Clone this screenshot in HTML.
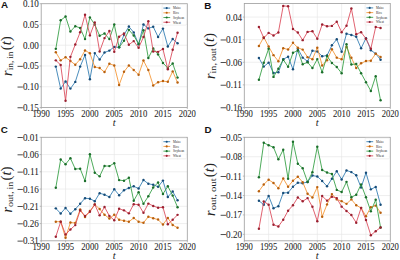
<!DOCTYPE html>
<html><head><meta charset="utf-8"><style>
html,body{margin:0;padding:0;background:#fff;}
svg{display:block;}
text{font-family:"Liberation Serif",serif;fill:#222;}
.grid{stroke:#e6e6e6;stroke-width:0.65;}
.spine{fill:none;stroke:#a2a2a2;stroke-width:0.85;}
.tick{stroke:#a2a2a2;stroke-width:0.7;}
.ln{stroke-width:0.85;}
.yt{font-size:9.9px;text-anchor:end;stroke:#333;stroke-width:0.05px;}
.minus{fill:#222;}
.xt{font-size:9.4px;text-anchor:middle;stroke:#333;stroke-width:0.05px;}
.xl{font-size:10.5px;font-style:italic;}
.ylr{font-size:14px;font-style:italic;}
.ylsub{font-size:9.2px;}
.ylp{font-size:14.5px;}
.ylp .it{font-style:italic;}
.pl{font-family:"Liberation Sans",sans-serif;font-weight:bold;font-size:9.8px;fill:#111;}
.leg{fill:#fff;fill-opacity:0.85;stroke:#e2e2e2;stroke-width:0.5;}
.lt{font-size:3.8px;fill:#2a2a2a;}
</style></head><body>
<svg width="400" height="260" viewBox="0 0 400 260">
<line x1="65.55" y1="3.7" x2="65.55" y2="107.5" class="grid"/>
<line x1="89.90" y1="3.7" x2="89.90" y2="107.5" class="grid"/>
<line x1="114.25" y1="3.7" x2="114.25" y2="107.5" class="grid"/>
<line x1="138.60" y1="3.7" x2="138.60" y2="107.5" class="grid"/>
<line x1="162.95" y1="3.7" x2="162.95" y2="107.5" class="grid"/>
<line x1="41.2" y1="24.46" x2="187.3" y2="24.46" class="grid"/>
<line x1="41.2" y1="45.22" x2="187.3" y2="45.22" class="grid"/>
<line x1="41.2" y1="65.98" x2="187.3" y2="65.98" class="grid"/>
<line x1="41.2" y1="86.74" x2="187.3" y2="86.74" class="grid"/>
<polyline points="55.81,66.60 60.68,88.61 65.55,81.47 70.42,88.61 75.29,81.88 80.16,66.60 85.03,55.02 89.90,79.27 94.77,53.11 99.64,59.59 104.51,52.49 109.38,50.62 114.25,46.88 119.12,47.30 123.99,34.84 128.86,26.58 133.73,32.39 138.60,44.39 143.47,24.46 148.34,28.40 153.21,26.74 158.08,36.92 162.95,28.61 167.82,46.47 172.69,38.99 177.56,43.31" fill="none" stroke="#2a78b0" class="ln"/>
<circle cx="55.81" cy="66.60" r="1.22" fill="#174c78" class="mk"/>
<circle cx="60.68" cy="88.61" r="1.22" fill="#174c78" class="mk"/>
<circle cx="65.55" cy="81.47" r="1.22" fill="#174c78" class="mk"/>
<circle cx="70.42" cy="88.61" r="1.22" fill="#174c78" class="mk"/>
<circle cx="75.29" cy="81.88" r="1.22" fill="#174c78" class="mk"/>
<circle cx="80.16" cy="66.60" r="1.22" fill="#174c78" class="mk"/>
<circle cx="85.03" cy="55.02" r="1.22" fill="#174c78" class="mk"/>
<circle cx="89.90" cy="79.27" r="1.22" fill="#174c78" class="mk"/>
<circle cx="94.77" cy="53.11" r="1.22" fill="#174c78" class="mk"/>
<circle cx="99.64" cy="59.59" r="1.22" fill="#174c78" class="mk"/>
<circle cx="104.51" cy="52.49" r="1.22" fill="#174c78" class="mk"/>
<circle cx="109.38" cy="50.62" r="1.22" fill="#174c78" class="mk"/>
<circle cx="114.25" cy="46.88" r="1.22" fill="#174c78" class="mk"/>
<circle cx="119.12" cy="47.30" r="1.22" fill="#174c78" class="mk"/>
<circle cx="123.99" cy="34.84" r="1.22" fill="#174c78" class="mk"/>
<circle cx="128.86" cy="26.58" r="1.22" fill="#174c78" class="mk"/>
<circle cx="133.73" cy="32.39" r="1.22" fill="#174c78" class="mk"/>
<circle cx="138.60" cy="44.39" r="1.22" fill="#174c78" class="mk"/>
<circle cx="143.47" cy="24.46" r="1.22" fill="#174c78" class="mk"/>
<circle cx="148.34" cy="28.40" r="1.22" fill="#174c78" class="mk"/>
<circle cx="153.21" cy="26.74" r="1.22" fill="#174c78" class="mk"/>
<circle cx="158.08" cy="36.92" r="1.22" fill="#174c78" class="mk"/>
<circle cx="162.95" cy="28.61" r="1.22" fill="#174c78" class="mk"/>
<circle cx="167.82" cy="46.47" r="1.22" fill="#174c78" class="mk"/>
<circle cx="172.69" cy="38.99" r="1.22" fill="#174c78" class="mk"/>
<circle cx="177.56" cy="43.31" r="1.22" fill="#174c78" class="mk"/>
<polyline points="55.81,52.28 60.68,60.37 65.55,57.26 70.42,61.00 75.29,64.73 80.16,59.21 85.03,50.41 89.90,53.23 94.77,67.02 99.64,68.06 104.51,72.08 109.38,63.70 114.25,65.44 119.12,85.00 123.99,71.75 128.86,65.48 133.73,70.01 138.60,74.70 143.47,60.58 148.34,70.05 153.21,85.41 158.08,82.26 162.95,81.09 167.82,81.76 172.69,71.38 177.56,82.59" fill="none" stroke="#f4922e" class="ln"/>
<circle cx="55.81" cy="52.28" r="1.22" fill="#b8600e" class="mk"/>
<circle cx="60.68" cy="60.37" r="1.22" fill="#b8600e" class="mk"/>
<circle cx="65.55" cy="57.26" r="1.22" fill="#b8600e" class="mk"/>
<circle cx="70.42" cy="61.00" r="1.22" fill="#b8600e" class="mk"/>
<circle cx="75.29" cy="64.73" r="1.22" fill="#b8600e" class="mk"/>
<circle cx="80.16" cy="59.21" r="1.22" fill="#b8600e" class="mk"/>
<circle cx="85.03" cy="50.41" r="1.22" fill="#b8600e" class="mk"/>
<circle cx="89.90" cy="53.23" r="1.22" fill="#b8600e" class="mk"/>
<circle cx="94.77" cy="67.02" r="1.22" fill="#b8600e" class="mk"/>
<circle cx="99.64" cy="68.06" r="1.22" fill="#b8600e" class="mk"/>
<circle cx="104.51" cy="72.08" r="1.22" fill="#b8600e" class="mk"/>
<circle cx="109.38" cy="63.70" r="1.22" fill="#b8600e" class="mk"/>
<circle cx="114.25" cy="65.44" r="1.22" fill="#b8600e" class="mk"/>
<circle cx="119.12" cy="85.00" r="1.22" fill="#b8600e" class="mk"/>
<circle cx="123.99" cy="71.75" r="1.22" fill="#b8600e" class="mk"/>
<circle cx="128.86" cy="65.48" r="1.22" fill="#b8600e" class="mk"/>
<circle cx="133.73" cy="70.01" r="1.22" fill="#b8600e" class="mk"/>
<circle cx="138.60" cy="74.70" r="1.22" fill="#b8600e" class="mk"/>
<circle cx="143.47" cy="60.58" r="1.22" fill="#b8600e" class="mk"/>
<circle cx="148.34" cy="70.05" r="1.22" fill="#b8600e" class="mk"/>
<circle cx="153.21" cy="85.41" r="1.22" fill="#b8600e" class="mk"/>
<circle cx="158.08" cy="82.26" r="1.22" fill="#b8600e" class="mk"/>
<circle cx="162.95" cy="81.09" r="1.22" fill="#b8600e" class="mk"/>
<circle cx="167.82" cy="81.76" r="1.22" fill="#b8600e" class="mk"/>
<circle cx="172.69" cy="71.38" r="1.22" fill="#b8600e" class="mk"/>
<circle cx="177.56" cy="82.59" r="1.22" fill="#b8600e" class="mk"/>
<polyline points="55.81,48.87 60.68,20.31 65.55,16.57 70.42,31.44 75.29,26.25 80.16,27.91 85.03,39.12 89.90,17.40 94.77,24.46 99.64,35.75 104.51,33.51 109.38,39.12 114.25,24.42 119.12,47.30 123.99,40.78 128.86,29.86 133.73,35.46 138.60,43.97 143.47,30.27 148.34,58.09 153.21,48.50 158.08,54.40 162.95,62.91 167.82,68.06 172.69,63.49 177.56,77.61" fill="none" stroke="#2e9c3e" class="ln"/>
<circle cx="55.81" cy="48.87" r="1.22" fill="#1b6e2b" class="mk"/>
<circle cx="60.68" cy="20.31" r="1.22" fill="#1b6e2b" class="mk"/>
<circle cx="65.55" cy="16.57" r="1.22" fill="#1b6e2b" class="mk"/>
<circle cx="70.42" cy="31.44" r="1.22" fill="#1b6e2b" class="mk"/>
<circle cx="75.29" cy="26.25" r="1.22" fill="#1b6e2b" class="mk"/>
<circle cx="80.16" cy="27.91" r="1.22" fill="#1b6e2b" class="mk"/>
<circle cx="85.03" cy="39.12" r="1.22" fill="#1b6e2b" class="mk"/>
<circle cx="89.90" cy="17.40" r="1.22" fill="#1b6e2b" class="mk"/>
<circle cx="94.77" cy="24.46" r="1.22" fill="#1b6e2b" class="mk"/>
<circle cx="99.64" cy="35.75" r="1.22" fill="#1b6e2b" class="mk"/>
<circle cx="104.51" cy="33.51" r="1.22" fill="#1b6e2b" class="mk"/>
<circle cx="109.38" cy="39.12" r="1.22" fill="#1b6e2b" class="mk"/>
<circle cx="114.25" cy="24.42" r="1.22" fill="#1b6e2b" class="mk"/>
<circle cx="119.12" cy="47.30" r="1.22" fill="#1b6e2b" class="mk"/>
<circle cx="123.99" cy="40.78" r="1.22" fill="#1b6e2b" class="mk"/>
<circle cx="128.86" cy="29.86" r="1.22" fill="#1b6e2b" class="mk"/>
<circle cx="133.73" cy="35.46" r="1.22" fill="#1b6e2b" class="mk"/>
<circle cx="138.60" cy="43.97" r="1.22" fill="#1b6e2b" class="mk"/>
<circle cx="143.47" cy="30.27" r="1.22" fill="#1b6e2b" class="mk"/>
<circle cx="148.34" cy="58.09" r="1.22" fill="#1b6e2b" class="mk"/>
<circle cx="153.21" cy="48.50" r="1.22" fill="#1b6e2b" class="mk"/>
<circle cx="158.08" cy="54.40" r="1.22" fill="#1b6e2b" class="mk"/>
<circle cx="162.95" cy="62.91" r="1.22" fill="#1b6e2b" class="mk"/>
<circle cx="167.82" cy="68.06" r="1.22" fill="#1b6e2b" class="mk"/>
<circle cx="172.69" cy="63.49" r="1.22" fill="#1b6e2b" class="mk"/>
<circle cx="177.56" cy="77.61" r="1.22" fill="#1b6e2b" class="mk"/>
<polyline points="55.81,60.37 60.68,64.98 65.55,100.73 70.42,56.85 75.29,44.51 80.16,32.27 85.03,14.74 89.90,35.38 94.77,22.51 99.64,51.45 104.51,38.12 109.38,31.02 114.25,51.86 119.12,36.71 123.99,33.43 128.86,44.68 133.73,41.11 138.60,47.84 143.47,37.04 148.34,21.26 153.21,51.49 158.08,51.86 162.95,48.96 167.82,69.30 172.69,49.75 177.56,32.76" fill="none" stroke="#da4656" class="ln"/>
<circle cx="55.81" cy="60.37" r="1.22" fill="#9a2030" class="mk"/>
<circle cx="60.68" cy="64.98" r="1.22" fill="#9a2030" class="mk"/>
<circle cx="65.55" cy="100.73" r="1.22" fill="#9a2030" class="mk"/>
<circle cx="70.42" cy="56.85" r="1.22" fill="#9a2030" class="mk"/>
<circle cx="75.29" cy="44.51" r="1.22" fill="#9a2030" class="mk"/>
<circle cx="80.16" cy="32.27" r="1.22" fill="#9a2030" class="mk"/>
<circle cx="85.03" cy="14.74" r="1.22" fill="#9a2030" class="mk"/>
<circle cx="89.90" cy="35.38" r="1.22" fill="#9a2030" class="mk"/>
<circle cx="94.77" cy="22.51" r="1.22" fill="#9a2030" class="mk"/>
<circle cx="99.64" cy="51.45" r="1.22" fill="#9a2030" class="mk"/>
<circle cx="104.51" cy="38.12" r="1.22" fill="#9a2030" class="mk"/>
<circle cx="109.38" cy="31.02" r="1.22" fill="#9a2030" class="mk"/>
<circle cx="114.25" cy="51.86" r="1.22" fill="#9a2030" class="mk"/>
<circle cx="119.12" cy="36.71" r="1.22" fill="#9a2030" class="mk"/>
<circle cx="123.99" cy="33.43" r="1.22" fill="#9a2030" class="mk"/>
<circle cx="128.86" cy="44.68" r="1.22" fill="#9a2030" class="mk"/>
<circle cx="133.73" cy="41.11" r="1.22" fill="#9a2030" class="mk"/>
<circle cx="138.60" cy="47.84" r="1.22" fill="#9a2030" class="mk"/>
<circle cx="143.47" cy="37.04" r="1.22" fill="#9a2030" class="mk"/>
<circle cx="148.34" cy="21.26" r="1.22" fill="#9a2030" class="mk"/>
<circle cx="153.21" cy="51.49" r="1.22" fill="#9a2030" class="mk"/>
<circle cx="158.08" cy="51.86" r="1.22" fill="#9a2030" class="mk"/>
<circle cx="162.95" cy="48.96" r="1.22" fill="#9a2030" class="mk"/>
<circle cx="167.82" cy="69.30" r="1.22" fill="#9a2030" class="mk"/>
<circle cx="172.69" cy="49.75" r="1.22" fill="#9a2030" class="mk"/>
<circle cx="177.56" cy="32.76" r="1.22" fill="#9a2030" class="mk"/>
<rect x="41.2" y="3.7" width="146.10" height="103.80" class="spine"/>
<line x1="39.7" y1="3.70" x2="41.2" y2="3.70" class="tick"/>
<text x="38.90" y="7.15" class="yt" textLength="15.92" lengthAdjust="spacingAndGlyphs">0.10</text>
<line x1="39.7" y1="24.46" x2="41.2" y2="24.46" class="tick"/>
<text x="38.90" y="27.91" class="yt" textLength="15.92" lengthAdjust="spacingAndGlyphs">0.05</text>
<line x1="39.7" y1="45.22" x2="41.2" y2="45.22" class="tick"/>
<text x="38.90" y="48.67" class="yt" textLength="15.92" lengthAdjust="spacingAndGlyphs">0.00</text>
<line x1="39.7" y1="65.98" x2="41.2" y2="65.98" class="tick"/>
<text x="38.90" y="69.43" class="yt" textLength="15.92" lengthAdjust="spacingAndGlyphs">0.05</text>
<rect x="17.52" y="65.88" width="5.3" height="0.8" class="minus"/>
<line x1="39.7" y1="86.74" x2="41.2" y2="86.74" class="tick"/>
<text x="38.90" y="90.19" class="yt" textLength="15.92" lengthAdjust="spacingAndGlyphs">0.10</text>
<rect x="17.52" y="86.64" width="5.3" height="0.8" class="minus"/>
<line x1="39.7" y1="107.50" x2="41.2" y2="107.50" class="tick"/>
<text x="38.90" y="110.95" class="yt" textLength="15.92" lengthAdjust="spacingAndGlyphs">0.15</text>
<rect x="17.52" y="107.40" width="5.3" height="0.8" class="minus"/>
<line x1="41.20" y1="107.5" x2="41.20" y2="109.0" class="tick"/>
<text x="41.20" y="116.50" class="xt" textLength="17.3" lengthAdjust="spacingAndGlyphs">1990</text>
<line x1="65.55" y1="107.5" x2="65.55" y2="109.0" class="tick"/>
<text x="65.55" y="116.50" class="xt" textLength="17.3" lengthAdjust="spacingAndGlyphs">1995</text>
<line x1="89.90" y1="107.5" x2="89.90" y2="109.0" class="tick"/>
<text x="89.90" y="116.50" class="xt" textLength="17.3" lengthAdjust="spacingAndGlyphs">2000</text>
<line x1="114.25" y1="107.5" x2="114.25" y2="109.0" class="tick"/>
<text x="114.25" y="116.50" class="xt" textLength="17.3" lengthAdjust="spacingAndGlyphs">2005</text>
<line x1="138.60" y1="107.5" x2="138.60" y2="109.0" class="tick"/>
<text x="138.60" y="116.50" class="xt" textLength="17.3" lengthAdjust="spacingAndGlyphs">2010</text>
<line x1="162.95" y1="107.5" x2="162.95" y2="109.0" class="tick"/>
<text x="162.95" y="116.50" class="xt" textLength="17.3" lengthAdjust="spacingAndGlyphs">2015</text>
<line x1="187.30" y1="107.5" x2="187.30" y2="109.0" class="tick"/>
<text x="187.30" y="116.50" class="xt" textLength="17.3" lengthAdjust="spacingAndGlyphs">2020</text>
<text x="112.65" y="125.80" class="xl">t</text>
<text transform="translate(12.10,75.95) rotate(-90)" class="ylr">r</text>
<text transform="translate(12.90,70.35) rotate(-90)" class="ylsub" textLength="18.9" lengthAdjust="spacingAndGlyphs">in, in</text>
<text transform="translate(11.00,50.25) rotate(-90)" class="ylp" textLength="14" lengthAdjust="spacingAndGlyphs">(<tspan class="it">t</tspan>)</text>
<text x="1.0" y="8.4" class="pl">A</text>
<rect x="162.10" y="4.40" width="24.3" height="20.8" rx="0.8" class="leg"/>
<line x1="163.40" y1="8.10" x2="170.20" y2="8.10" stroke="#2a78b0" class="ln"/>
<circle cx="166.70" cy="8.10" r="1.05" fill="#174c78"/>
<text x="173.00" y="9.40" class="lt" textLength="7.9" lengthAdjust="spacingAndGlyphs">Maize</text>
<line x1="163.40" y1="12.82" x2="170.20" y2="12.82" stroke="#f4922e" class="ln"/>
<circle cx="166.70" cy="12.82" r="1.05" fill="#b8600e"/>
<text x="173.00" y="14.12" class="lt" textLength="6.2" lengthAdjust="spacingAndGlyphs">Rice</text>
<line x1="163.40" y1="17.54" x2="170.20" y2="17.54" stroke="#2e9c3e" class="ln"/>
<circle cx="166.70" cy="17.54" r="1.05" fill="#1b6e2b"/>
<text x="173.00" y="18.84" class="lt" textLength="11.2" lengthAdjust="spacingAndGlyphs">Soybean</text>
<line x1="163.40" y1="22.26" x2="170.20" y2="22.26" stroke="#da4656" class="ln"/>
<circle cx="166.70" cy="22.26" r="1.05" fill="#9a2030"/>
<text x="173.00" y="23.56" class="lt" textLength="7.9" lengthAdjust="spacingAndGlyphs">Wheat</text>
<line x1="268.63" y1="3.5" x2="268.63" y2="107.5" class="grid"/>
<line x1="292.97" y1="3.5" x2="292.97" y2="107.5" class="grid"/>
<line x1="317.30" y1="3.5" x2="317.30" y2="107.5" class="grid"/>
<line x1="341.63" y1="3.5" x2="341.63" y2="107.5" class="grid"/>
<line x1="365.97" y1="3.5" x2="365.97" y2="107.5" class="grid"/>
<line x1="244.3" y1="17.07" x2="390.3" y2="17.07" class="grid"/>
<line x1="244.3" y1="39.67" x2="390.3" y2="39.67" class="grid"/>
<line x1="244.3" y1="62.28" x2="390.3" y2="62.28" class="grid"/>
<line x1="244.3" y1="84.89" x2="390.3" y2="84.89" class="grid"/>
<polyline points="258.90,57.99 263.77,66.62 268.63,62.64 273.50,73.09 278.37,72.23 283.23,59.21 288.10,56.72 292.97,69.29 297.83,48.72 302.70,57.63 307.57,61.38 312.43,50.75 317.30,51.43 322.17,56.27 327.03,55.50 331.90,45.33 336.77,39.27 341.63,51.70 346.50,33.75 351.37,34.93 356.23,36.73 361.10,48.27 365.97,38.18 370.83,50.21 375.70,53.69 380.57,59.71" fill="none" stroke="#2a78b0" class="ln"/>
<circle cx="258.90" cy="57.99" r="1.22" fill="#174c78" class="mk"/>
<circle cx="263.77" cy="66.62" r="1.22" fill="#174c78" class="mk"/>
<circle cx="268.63" cy="62.64" r="1.22" fill="#174c78" class="mk"/>
<circle cx="273.50" cy="73.09" r="1.22" fill="#174c78" class="mk"/>
<circle cx="278.37" cy="72.23" r="1.22" fill="#174c78" class="mk"/>
<circle cx="283.23" cy="59.21" r="1.22" fill="#174c78" class="mk"/>
<circle cx="288.10" cy="56.72" r="1.22" fill="#174c78" class="mk"/>
<circle cx="292.97" cy="69.29" r="1.22" fill="#174c78" class="mk"/>
<circle cx="297.83" cy="48.72" r="1.22" fill="#174c78" class="mk"/>
<circle cx="302.70" cy="57.63" r="1.22" fill="#174c78" class="mk"/>
<circle cx="307.57" cy="61.38" r="1.22" fill="#174c78" class="mk"/>
<circle cx="312.43" cy="50.75" r="1.22" fill="#174c78" class="mk"/>
<circle cx="317.30" cy="51.43" r="1.22" fill="#174c78" class="mk"/>
<circle cx="322.17" cy="56.27" r="1.22" fill="#174c78" class="mk"/>
<circle cx="327.03" cy="55.50" r="1.22" fill="#174c78" class="mk"/>
<circle cx="331.90" cy="45.33" r="1.22" fill="#174c78" class="mk"/>
<circle cx="336.77" cy="39.27" r="1.22" fill="#174c78" class="mk"/>
<circle cx="341.63" cy="51.70" r="1.22" fill="#174c78" class="mk"/>
<circle cx="346.50" cy="33.75" r="1.22" fill="#174c78" class="mk"/>
<circle cx="351.37" cy="34.93" r="1.22" fill="#174c78" class="mk"/>
<circle cx="356.23" cy="36.73" r="1.22" fill="#174c78" class="mk"/>
<circle cx="361.10" cy="48.27" r="1.22" fill="#174c78" class="mk"/>
<circle cx="365.97" cy="38.18" r="1.22" fill="#174c78" class="mk"/>
<circle cx="370.83" cy="50.21" r="1.22" fill="#174c78" class="mk"/>
<circle cx="375.70" cy="53.69" r="1.22" fill="#174c78" class="mk"/>
<circle cx="380.57" cy="59.71" r="1.22" fill="#174c78" class="mk"/>
<polyline points="258.90,46.00 263.77,37.23 268.63,46.59 273.50,55.14 278.37,61.20 283.23,48.17 288.10,49.53 292.97,42.84 297.83,47.68 302.70,49.62 307.57,57.13 312.43,59.25 317.30,47.68 322.17,65.45 327.03,60.25 331.90,49.17 336.77,57.63 341.63,59.21 346.50,46.91 351.37,57.76 356.23,67.93 361.10,63.32 365.97,61.02 370.83,60.70 375.70,53.69 380.57,56.99" fill="none" stroke="#f4922e" class="ln"/>
<circle cx="258.90" cy="46.00" r="1.22" fill="#b8600e" class="mk"/>
<circle cx="263.77" cy="37.23" r="1.22" fill="#b8600e" class="mk"/>
<circle cx="268.63" cy="46.59" r="1.22" fill="#b8600e" class="mk"/>
<circle cx="273.50" cy="55.14" r="1.22" fill="#b8600e" class="mk"/>
<circle cx="278.37" cy="61.20" r="1.22" fill="#b8600e" class="mk"/>
<circle cx="283.23" cy="48.17" r="1.22" fill="#b8600e" class="mk"/>
<circle cx="288.10" cy="49.53" r="1.22" fill="#b8600e" class="mk"/>
<circle cx="292.97" cy="42.84" r="1.22" fill="#b8600e" class="mk"/>
<circle cx="297.83" cy="47.68" r="1.22" fill="#b8600e" class="mk"/>
<circle cx="302.70" cy="49.62" r="1.22" fill="#b8600e" class="mk"/>
<circle cx="307.57" cy="57.13" r="1.22" fill="#b8600e" class="mk"/>
<circle cx="312.43" cy="59.25" r="1.22" fill="#b8600e" class="mk"/>
<circle cx="317.30" cy="47.68" r="1.22" fill="#b8600e" class="mk"/>
<circle cx="322.17" cy="65.45" r="1.22" fill="#b8600e" class="mk"/>
<circle cx="327.03" cy="60.25" r="1.22" fill="#b8600e" class="mk"/>
<circle cx="331.90" cy="49.17" r="1.22" fill="#b8600e" class="mk"/>
<circle cx="336.77" cy="57.63" r="1.22" fill="#b8600e" class="mk"/>
<circle cx="341.63" cy="59.21" r="1.22" fill="#b8600e" class="mk"/>
<circle cx="346.50" cy="46.91" r="1.22" fill="#b8600e" class="mk"/>
<circle cx="351.37" cy="57.76" r="1.22" fill="#b8600e" class="mk"/>
<circle cx="356.23" cy="67.93" r="1.22" fill="#b8600e" class="mk"/>
<circle cx="361.10" cy="63.32" r="1.22" fill="#b8600e" class="mk"/>
<circle cx="365.97" cy="61.02" r="1.22" fill="#b8600e" class="mk"/>
<circle cx="370.83" cy="60.70" r="1.22" fill="#b8600e" class="mk"/>
<circle cx="375.70" cy="53.69" r="1.22" fill="#b8600e" class="mk"/>
<circle cx="380.57" cy="56.99" r="1.22" fill="#b8600e" class="mk"/>
<polyline points="258.90,79.74 263.77,62.73 268.63,48.72 273.50,76.89 278.37,68.75 283.23,59.66 288.10,66.80 292.97,52.79 297.83,50.53 302.70,64.32 307.57,62.28 312.43,68.07 317.30,59.12 322.17,72.19 327.03,56.09 331.90,63.01 336.77,67.03 341.63,73.23 346.50,44.20 351.37,64.54 356.23,63.91 361.10,73.23 365.97,82.18 370.83,91.00 375.70,76.21 380.57,100.27" fill="none" stroke="#2e9c3e" class="ln"/>
<circle cx="258.90" cy="79.74" r="1.22" fill="#1b6e2b" class="mk"/>
<circle cx="263.77" cy="62.73" r="1.22" fill="#1b6e2b" class="mk"/>
<circle cx="268.63" cy="48.72" r="1.22" fill="#1b6e2b" class="mk"/>
<circle cx="273.50" cy="76.89" r="1.22" fill="#1b6e2b" class="mk"/>
<circle cx="278.37" cy="68.75" r="1.22" fill="#1b6e2b" class="mk"/>
<circle cx="283.23" cy="59.66" r="1.22" fill="#1b6e2b" class="mk"/>
<circle cx="288.10" cy="66.80" r="1.22" fill="#1b6e2b" class="mk"/>
<circle cx="292.97" cy="52.79" r="1.22" fill="#1b6e2b" class="mk"/>
<circle cx="297.83" cy="50.53" r="1.22" fill="#1b6e2b" class="mk"/>
<circle cx="302.70" cy="64.32" r="1.22" fill="#1b6e2b" class="mk"/>
<circle cx="307.57" cy="62.28" r="1.22" fill="#1b6e2b" class="mk"/>
<circle cx="312.43" cy="68.07" r="1.22" fill="#1b6e2b" class="mk"/>
<circle cx="317.30" cy="59.12" r="1.22" fill="#1b6e2b" class="mk"/>
<circle cx="322.17" cy="72.19" r="1.22" fill="#1b6e2b" class="mk"/>
<circle cx="327.03" cy="56.09" r="1.22" fill="#1b6e2b" class="mk"/>
<circle cx="331.90" cy="63.01" r="1.22" fill="#1b6e2b" class="mk"/>
<circle cx="336.77" cy="67.03" r="1.22" fill="#1b6e2b" class="mk"/>
<circle cx="341.63" cy="73.23" r="1.22" fill="#1b6e2b" class="mk"/>
<circle cx="346.50" cy="44.20" r="1.22" fill="#1b6e2b" class="mk"/>
<circle cx="351.37" cy="64.54" r="1.22" fill="#1b6e2b" class="mk"/>
<circle cx="356.23" cy="63.91" r="1.22" fill="#1b6e2b" class="mk"/>
<circle cx="361.10" cy="73.23" r="1.22" fill="#1b6e2b" class="mk"/>
<circle cx="365.97" cy="82.18" r="1.22" fill="#1b6e2b" class="mk"/>
<circle cx="370.83" cy="91.00" r="1.22" fill="#1b6e2b" class="mk"/>
<circle cx="375.70" cy="76.21" r="1.22" fill="#1b6e2b" class="mk"/>
<circle cx="380.57" cy="100.27" r="1.22" fill="#1b6e2b" class="mk"/>
<polyline points="258.90,26.92 263.77,37.91 268.63,32.89 273.50,35.42 278.37,32.48 283.23,5.90 288.10,6.26 292.97,29.05 297.83,32.57 302.70,40.13 307.57,31.90 312.43,31.22 317.30,38.77 322.17,24.48 327.03,26.24 331.90,25.88 336.77,21.77 341.63,32.21 346.50,25.79 351.37,8.47 356.23,34.20 361.10,32.21 365.97,38.68 370.83,48.72 375.70,27.01 380.57,28.01" fill="none" stroke="#da4656" class="ln"/>
<circle cx="258.90" cy="26.92" r="1.22" fill="#9a2030" class="mk"/>
<circle cx="263.77" cy="37.91" r="1.22" fill="#9a2030" class="mk"/>
<circle cx="268.63" cy="32.89" r="1.22" fill="#9a2030" class="mk"/>
<circle cx="273.50" cy="35.42" r="1.22" fill="#9a2030" class="mk"/>
<circle cx="278.37" cy="32.48" r="1.22" fill="#9a2030" class="mk"/>
<circle cx="283.23" cy="5.90" r="1.22" fill="#9a2030" class="mk"/>
<circle cx="288.10" cy="6.26" r="1.22" fill="#9a2030" class="mk"/>
<circle cx="292.97" cy="29.05" r="1.22" fill="#9a2030" class="mk"/>
<circle cx="297.83" cy="32.57" r="1.22" fill="#9a2030" class="mk"/>
<circle cx="302.70" cy="40.13" r="1.22" fill="#9a2030" class="mk"/>
<circle cx="307.57" cy="31.90" r="1.22" fill="#9a2030" class="mk"/>
<circle cx="312.43" cy="31.22" r="1.22" fill="#9a2030" class="mk"/>
<circle cx="317.30" cy="38.77" r="1.22" fill="#9a2030" class="mk"/>
<circle cx="322.17" cy="24.48" r="1.22" fill="#9a2030" class="mk"/>
<circle cx="327.03" cy="26.24" r="1.22" fill="#9a2030" class="mk"/>
<circle cx="331.90" cy="25.88" r="1.22" fill="#9a2030" class="mk"/>
<circle cx="336.77" cy="21.77" r="1.22" fill="#9a2030" class="mk"/>
<circle cx="341.63" cy="32.21" r="1.22" fill="#9a2030" class="mk"/>
<circle cx="346.50" cy="25.79" r="1.22" fill="#9a2030" class="mk"/>
<circle cx="351.37" cy="8.47" r="1.22" fill="#9a2030" class="mk"/>
<circle cx="356.23" cy="34.20" r="1.22" fill="#9a2030" class="mk"/>
<circle cx="361.10" cy="32.21" r="1.22" fill="#9a2030" class="mk"/>
<circle cx="365.97" cy="38.68" r="1.22" fill="#9a2030" class="mk"/>
<circle cx="370.83" cy="48.72" r="1.22" fill="#9a2030" class="mk"/>
<circle cx="375.70" cy="27.01" r="1.22" fill="#9a2030" class="mk"/>
<circle cx="380.57" cy="28.01" r="1.22" fill="#9a2030" class="mk"/>
<rect x="244.3" y="3.5" width="146.00" height="104.00" class="spine"/>
<line x1="242.8" y1="17.07" x2="244.3" y2="17.07" class="tick"/>
<text x="242.00" y="20.52" class="yt" textLength="15.92" lengthAdjust="spacingAndGlyphs">0.04</text>
<line x1="242.8" y1="39.67" x2="244.3" y2="39.67" class="tick"/>
<text x="242.00" y="43.12" class="yt" textLength="15.92" lengthAdjust="spacingAndGlyphs">0.01</text>
<rect x="220.62" y="39.57" width="5.3" height="0.8" class="minus"/>
<line x1="242.8" y1="62.28" x2="244.3" y2="62.28" class="tick"/>
<text x="242.00" y="65.73" class="yt" textLength="15.92" lengthAdjust="spacingAndGlyphs">0.06</text>
<rect x="220.62" y="62.18" width="5.3" height="0.8" class="minus"/>
<line x1="242.8" y1="84.89" x2="244.3" y2="84.89" class="tick"/>
<text x="242.00" y="88.34" class="yt" textLength="15.92" lengthAdjust="spacingAndGlyphs">0.11</text>
<rect x="220.62" y="84.79" width="5.3" height="0.8" class="minus"/>
<line x1="242.8" y1="107.50" x2="244.3" y2="107.50" class="tick"/>
<text x="242.00" y="110.95" class="yt" textLength="15.92" lengthAdjust="spacingAndGlyphs">0.16</text>
<rect x="220.62" y="107.40" width="5.3" height="0.8" class="minus"/>
<line x1="244.30" y1="107.5" x2="244.30" y2="109.0" class="tick"/>
<text x="244.30" y="116.50" class="xt" textLength="17.3" lengthAdjust="spacingAndGlyphs">1990</text>
<line x1="268.63" y1="107.5" x2="268.63" y2="109.0" class="tick"/>
<text x="268.63" y="116.50" class="xt" textLength="17.3" lengthAdjust="spacingAndGlyphs">1995</text>
<line x1="292.97" y1="107.5" x2="292.97" y2="109.0" class="tick"/>
<text x="292.97" y="116.50" class="xt" textLength="17.3" lengthAdjust="spacingAndGlyphs">2000</text>
<line x1="317.30" y1="107.5" x2="317.30" y2="109.0" class="tick"/>
<text x="317.30" y="116.50" class="xt" textLength="17.3" lengthAdjust="spacingAndGlyphs">2005</text>
<line x1="341.63" y1="107.5" x2="341.63" y2="109.0" class="tick"/>
<text x="341.63" y="116.50" class="xt" textLength="17.3" lengthAdjust="spacingAndGlyphs">2010</text>
<line x1="365.97" y1="107.5" x2="365.97" y2="109.0" class="tick"/>
<text x="365.97" y="116.50" class="xt" textLength="17.3" lengthAdjust="spacingAndGlyphs">2015</text>
<line x1="390.30" y1="107.5" x2="390.30" y2="109.0" class="tick"/>
<text x="390.30" y="116.50" class="xt" textLength="17.3" lengthAdjust="spacingAndGlyphs">2020</text>
<text x="315.70" y="125.80" class="xl">t</text>
<text transform="translate(215.20,79.05) rotate(-90)" class="ylr">r</text>
<text transform="translate(216.00,73.45) rotate(-90)" class="ylsub" textLength="25.3" lengthAdjust="spacingAndGlyphs">in, out</text>
<text transform="translate(214.10,46.95) rotate(-90)" class="ylp" textLength="14" lengthAdjust="spacingAndGlyphs">(<tspan class="it">t</tspan>)</text>
<text x="204.3" y="8.5" class="pl">B</text>
<rect x="365.10" y="4.20" width="24.3" height="20.8" rx="0.8" class="leg"/>
<line x1="366.40" y1="7.90" x2="373.20" y2="7.90" stroke="#2a78b0" class="ln"/>
<circle cx="369.70" cy="7.90" r="1.05" fill="#174c78"/>
<text x="376.00" y="9.20" class="lt" textLength="7.9" lengthAdjust="spacingAndGlyphs">Maize</text>
<line x1="366.40" y1="12.62" x2="373.20" y2="12.62" stroke="#f4922e" class="ln"/>
<circle cx="369.70" cy="12.62" r="1.05" fill="#b8600e"/>
<text x="376.00" y="13.92" class="lt" textLength="6.2" lengthAdjust="spacingAndGlyphs">Rice</text>
<line x1="366.40" y1="17.34" x2="373.20" y2="17.34" stroke="#2e9c3e" class="ln"/>
<circle cx="369.70" cy="17.34" r="1.05" fill="#1b6e2b"/>
<text x="376.00" y="18.64" class="lt" textLength="11.2" lengthAdjust="spacingAndGlyphs">Soybean</text>
<line x1="366.40" y1="22.06" x2="373.20" y2="22.06" stroke="#da4656" class="ln"/>
<circle cx="369.70" cy="22.06" r="1.05" fill="#9a2030"/>
<text x="376.00" y="23.36" class="lt" textLength="7.9" lengthAdjust="spacingAndGlyphs">Wheat</text>
<line x1="65.55" y1="137.3" x2="65.55" y2="240.8" class="grid"/>
<line x1="89.90" y1="137.3" x2="89.90" y2="240.8" class="grid"/>
<line x1="114.25" y1="137.3" x2="114.25" y2="240.8" class="grid"/>
<line x1="138.60" y1="137.3" x2="138.60" y2="240.8" class="grid"/>
<line x1="162.95" y1="137.3" x2="162.95" y2="240.8" class="grid"/>
<line x1="41.2" y1="154.55" x2="187.3" y2="154.55" class="grid"/>
<line x1="41.2" y1="171.80" x2="187.3" y2="171.80" class="grid"/>
<line x1="41.2" y1="189.05" x2="187.3" y2="189.05" class="grid"/>
<line x1="41.2" y1="206.30" x2="187.3" y2="206.30" class="grid"/>
<line x1="41.2" y1="223.55" x2="187.3" y2="223.55" class="grid"/>
<polyline points="55.81,208.37 60.68,213.51 65.55,207.99 70.42,213.68 75.29,209.20 80.16,203.78 85.03,198.19 89.90,198.68 94.77,201.19 99.64,193.19 104.51,194.67 109.38,196.95 114.25,189.19 119.12,195.19 123.99,190.29 128.86,187.95 133.73,186.32 138.60,188.50 143.47,180.01 148.34,183.74 153.21,184.74 158.08,186.81 162.95,180.60 167.82,196.92 172.69,191.50 177.56,200.26" fill="none" stroke="#2a78b0" class="ln"/>
<circle cx="55.81" cy="208.37" r="1.22" fill="#174c78" class="mk"/>
<circle cx="60.68" cy="213.51" r="1.22" fill="#174c78" class="mk"/>
<circle cx="65.55" cy="207.99" r="1.22" fill="#174c78" class="mk"/>
<circle cx="70.42" cy="213.68" r="1.22" fill="#174c78" class="mk"/>
<circle cx="75.29" cy="209.20" r="1.22" fill="#174c78" class="mk"/>
<circle cx="80.16" cy="203.78" r="1.22" fill="#174c78" class="mk"/>
<circle cx="85.03" cy="198.19" r="1.22" fill="#174c78" class="mk"/>
<circle cx="89.90" cy="198.68" r="1.22" fill="#174c78" class="mk"/>
<circle cx="94.77" cy="201.19" r="1.22" fill="#174c78" class="mk"/>
<circle cx="99.64" cy="193.19" r="1.22" fill="#174c78" class="mk"/>
<circle cx="104.51" cy="194.67" r="1.22" fill="#174c78" class="mk"/>
<circle cx="109.38" cy="196.95" r="1.22" fill="#174c78" class="mk"/>
<circle cx="114.25" cy="189.19" r="1.22" fill="#174c78" class="mk"/>
<circle cx="119.12" cy="195.19" r="1.22" fill="#174c78" class="mk"/>
<circle cx="123.99" cy="190.29" r="1.22" fill="#174c78" class="mk"/>
<circle cx="128.86" cy="187.95" r="1.22" fill="#174c78" class="mk"/>
<circle cx="133.73" cy="186.32" r="1.22" fill="#174c78" class="mk"/>
<circle cx="138.60" cy="188.50" r="1.22" fill="#174c78" class="mk"/>
<circle cx="143.47" cy="180.01" r="1.22" fill="#174c78" class="mk"/>
<circle cx="148.34" cy="183.74" r="1.22" fill="#174c78" class="mk"/>
<circle cx="153.21" cy="184.74" r="1.22" fill="#174c78" class="mk"/>
<circle cx="158.08" cy="186.81" r="1.22" fill="#174c78" class="mk"/>
<circle cx="162.95" cy="180.60" r="1.22" fill="#174c78" class="mk"/>
<circle cx="167.82" cy="196.92" r="1.22" fill="#174c78" class="mk"/>
<circle cx="172.69" cy="191.50" r="1.22" fill="#174c78" class="mk"/>
<circle cx="177.56" cy="200.26" r="1.22" fill="#174c78" class="mk"/>
<polyline points="55.81,221.69 60.68,221.69 65.55,237.80 70.42,222.52 75.29,222.96 80.16,209.37 85.03,217.03 89.90,211.03 94.77,204.51 99.64,209.06 104.51,214.68 109.38,218.55 114.25,214.68 119.12,219.79 123.99,220.69 128.86,221.69 133.73,218.00 138.60,221.69 143.47,222.79 148.34,216.72 153.21,218.24 158.08,219.58 162.95,224.59 167.82,218.03 172.69,225.00 177.56,227.79" fill="none" stroke="#f4922e" class="ln"/>
<circle cx="55.81" cy="221.69" r="1.22" fill="#b8600e" class="mk"/>
<circle cx="60.68" cy="221.69" r="1.22" fill="#b8600e" class="mk"/>
<circle cx="65.55" cy="237.80" r="1.22" fill="#b8600e" class="mk"/>
<circle cx="70.42" cy="222.52" r="1.22" fill="#b8600e" class="mk"/>
<circle cx="75.29" cy="222.96" r="1.22" fill="#b8600e" class="mk"/>
<circle cx="80.16" cy="209.37" r="1.22" fill="#b8600e" class="mk"/>
<circle cx="85.03" cy="217.03" r="1.22" fill="#b8600e" class="mk"/>
<circle cx="89.90" cy="211.03" r="1.22" fill="#b8600e" class="mk"/>
<circle cx="94.77" cy="204.51" r="1.22" fill="#b8600e" class="mk"/>
<circle cx="99.64" cy="209.06" r="1.22" fill="#b8600e" class="mk"/>
<circle cx="104.51" cy="214.68" r="1.22" fill="#b8600e" class="mk"/>
<circle cx="109.38" cy="218.55" r="1.22" fill="#b8600e" class="mk"/>
<circle cx="114.25" cy="214.68" r="1.22" fill="#b8600e" class="mk"/>
<circle cx="119.12" cy="219.79" r="1.22" fill="#b8600e" class="mk"/>
<circle cx="123.99" cy="220.69" r="1.22" fill="#b8600e" class="mk"/>
<circle cx="128.86" cy="221.69" r="1.22" fill="#b8600e" class="mk"/>
<circle cx="133.73" cy="218.00" r="1.22" fill="#b8600e" class="mk"/>
<circle cx="138.60" cy="221.69" r="1.22" fill="#b8600e" class="mk"/>
<circle cx="143.47" cy="222.79" r="1.22" fill="#b8600e" class="mk"/>
<circle cx="148.34" cy="216.72" r="1.22" fill="#b8600e" class="mk"/>
<circle cx="153.21" cy="218.24" r="1.22" fill="#b8600e" class="mk"/>
<circle cx="158.08" cy="219.58" r="1.22" fill="#b8600e" class="mk"/>
<circle cx="162.95" cy="224.59" r="1.22" fill="#b8600e" class="mk"/>
<circle cx="167.82" cy="218.03" r="1.22" fill="#b8600e" class="mk"/>
<circle cx="172.69" cy="225.00" r="1.22" fill="#b8600e" class="mk"/>
<circle cx="177.56" cy="227.79" r="1.22" fill="#b8600e" class="mk"/>
<polyline points="55.81,187.67 60.68,159.48 65.55,164.21 70.42,158.21 75.29,169.01 80.16,168.69 85.03,181.01 89.90,154.31 94.77,172.70 99.64,176.35 104.51,165.94 109.38,166.11 114.25,163.18 119.12,180.11 123.99,180.70 128.86,177.84 133.73,200.78 138.60,192.16 143.47,203.78 148.34,196.30 153.21,187.43 158.08,182.50 162.95,193.98 167.82,186.26 172.69,195.61 177.56,207.23" fill="none" stroke="#2e9c3e" class="ln"/>
<circle cx="55.81" cy="187.67" r="1.22" fill="#1b6e2b" class="mk"/>
<circle cx="60.68" cy="159.48" r="1.22" fill="#1b6e2b" class="mk"/>
<circle cx="65.55" cy="164.21" r="1.22" fill="#1b6e2b" class="mk"/>
<circle cx="70.42" cy="158.21" r="1.22" fill="#1b6e2b" class="mk"/>
<circle cx="75.29" cy="169.01" r="1.22" fill="#1b6e2b" class="mk"/>
<circle cx="80.16" cy="168.69" r="1.22" fill="#1b6e2b" class="mk"/>
<circle cx="85.03" cy="181.01" r="1.22" fill="#1b6e2b" class="mk"/>
<circle cx="89.90" cy="154.31" r="1.22" fill="#1b6e2b" class="mk"/>
<circle cx="94.77" cy="172.70" r="1.22" fill="#1b6e2b" class="mk"/>
<circle cx="99.64" cy="176.35" r="1.22" fill="#1b6e2b" class="mk"/>
<circle cx="104.51" cy="165.94" r="1.22" fill="#1b6e2b" class="mk"/>
<circle cx="109.38" cy="166.11" r="1.22" fill="#1b6e2b" class="mk"/>
<circle cx="114.25" cy="163.18" r="1.22" fill="#1b6e2b" class="mk"/>
<circle cx="119.12" cy="180.11" r="1.22" fill="#1b6e2b" class="mk"/>
<circle cx="123.99" cy="180.70" r="1.22" fill="#1b6e2b" class="mk"/>
<circle cx="128.86" cy="177.84" r="1.22" fill="#1b6e2b" class="mk"/>
<circle cx="133.73" cy="200.78" r="1.22" fill="#1b6e2b" class="mk"/>
<circle cx="138.60" cy="192.16" r="1.22" fill="#1b6e2b" class="mk"/>
<circle cx="143.47" cy="203.78" r="1.22" fill="#1b6e2b" class="mk"/>
<circle cx="148.34" cy="196.30" r="1.22" fill="#1b6e2b" class="mk"/>
<circle cx="153.21" cy="187.43" r="1.22" fill="#1b6e2b" class="mk"/>
<circle cx="158.08" cy="182.50" r="1.22" fill="#1b6e2b" class="mk"/>
<circle cx="162.95" cy="193.98" r="1.22" fill="#1b6e2b" class="mk"/>
<circle cx="167.82" cy="186.26" r="1.22" fill="#1b6e2b" class="mk"/>
<circle cx="172.69" cy="195.61" r="1.22" fill="#1b6e2b" class="mk"/>
<circle cx="177.56" cy="207.23" r="1.22" fill="#1b6e2b" class="mk"/>
<polyline points="55.81,236.69 60.68,221.69 65.55,234.49 70.42,229.48 75.29,225.10 80.16,210.44 85.03,215.96 89.90,211.82 94.77,204.58 99.64,215.37 104.51,206.99 109.38,215.96 114.25,220.20 119.12,208.78 123.99,210.37 128.86,213.37 133.73,204.20 138.60,204.71 143.47,212.79 148.34,203.61 153.21,205.92 158.08,207.75 162.95,207.23 167.82,224.31 172.69,219.75 177.56,214.86" fill="none" stroke="#da4656" class="ln"/>
<circle cx="55.81" cy="236.69" r="1.22" fill="#9a2030" class="mk"/>
<circle cx="60.68" cy="221.69" r="1.22" fill="#9a2030" class="mk"/>
<circle cx="65.55" cy="234.49" r="1.22" fill="#9a2030" class="mk"/>
<circle cx="70.42" cy="229.48" r="1.22" fill="#9a2030" class="mk"/>
<circle cx="75.29" cy="225.10" r="1.22" fill="#9a2030" class="mk"/>
<circle cx="80.16" cy="210.44" r="1.22" fill="#9a2030" class="mk"/>
<circle cx="85.03" cy="215.96" r="1.22" fill="#9a2030" class="mk"/>
<circle cx="89.90" cy="211.82" r="1.22" fill="#9a2030" class="mk"/>
<circle cx="94.77" cy="204.58" r="1.22" fill="#9a2030" class="mk"/>
<circle cx="99.64" cy="215.37" r="1.22" fill="#9a2030" class="mk"/>
<circle cx="104.51" cy="206.99" r="1.22" fill="#9a2030" class="mk"/>
<circle cx="109.38" cy="215.96" r="1.22" fill="#9a2030" class="mk"/>
<circle cx="114.25" cy="220.20" r="1.22" fill="#9a2030" class="mk"/>
<circle cx="119.12" cy="208.78" r="1.22" fill="#9a2030" class="mk"/>
<circle cx="123.99" cy="210.37" r="1.22" fill="#9a2030" class="mk"/>
<circle cx="128.86" cy="213.37" r="1.22" fill="#9a2030" class="mk"/>
<circle cx="133.73" cy="204.20" r="1.22" fill="#9a2030" class="mk"/>
<circle cx="138.60" cy="204.71" r="1.22" fill="#9a2030" class="mk"/>
<circle cx="143.47" cy="212.79" r="1.22" fill="#9a2030" class="mk"/>
<circle cx="148.34" cy="203.61" r="1.22" fill="#9a2030" class="mk"/>
<circle cx="153.21" cy="205.92" r="1.22" fill="#9a2030" class="mk"/>
<circle cx="158.08" cy="207.75" r="1.22" fill="#9a2030" class="mk"/>
<circle cx="162.95" cy="207.23" r="1.22" fill="#9a2030" class="mk"/>
<circle cx="167.82" cy="224.31" r="1.22" fill="#9a2030" class="mk"/>
<circle cx="172.69" cy="219.75" r="1.22" fill="#9a2030" class="mk"/>
<circle cx="177.56" cy="214.86" r="1.22" fill="#9a2030" class="mk"/>
<rect x="41.2" y="137.3" width="146.10" height="103.50" class="spine"/>
<line x1="39.7" y1="137.30" x2="41.2" y2="137.30" class="tick"/>
<text x="38.90" y="140.75" class="yt" textLength="15.92" lengthAdjust="spacingAndGlyphs">0.01</text>
<rect x="17.52" y="137.20" width="5.3" height="0.8" class="minus"/>
<line x1="39.7" y1="154.55" x2="41.2" y2="154.55" class="tick"/>
<text x="38.90" y="158.00" class="yt" textLength="15.92" lengthAdjust="spacingAndGlyphs">0.06</text>
<rect x="17.52" y="154.45" width="5.3" height="0.8" class="minus"/>
<line x1="39.7" y1="171.80" x2="41.2" y2="171.80" class="tick"/>
<text x="38.90" y="175.25" class="yt" textLength="15.92" lengthAdjust="spacingAndGlyphs">0.11</text>
<rect x="17.52" y="171.70" width="5.3" height="0.8" class="minus"/>
<line x1="39.7" y1="189.05" x2="41.2" y2="189.05" class="tick"/>
<text x="38.90" y="192.50" class="yt" textLength="15.92" lengthAdjust="spacingAndGlyphs">0.16</text>
<rect x="17.52" y="188.95" width="5.3" height="0.8" class="minus"/>
<line x1="39.7" y1="206.30" x2="41.2" y2="206.30" class="tick"/>
<text x="38.90" y="209.75" class="yt" textLength="15.92" lengthAdjust="spacingAndGlyphs">0.21</text>
<rect x="17.52" y="206.20" width="5.3" height="0.8" class="minus"/>
<line x1="39.7" y1="223.55" x2="41.2" y2="223.55" class="tick"/>
<text x="38.90" y="227.00" class="yt" textLength="15.92" lengthAdjust="spacingAndGlyphs">0.26</text>
<rect x="17.52" y="223.45" width="5.3" height="0.8" class="minus"/>
<line x1="39.7" y1="240.80" x2="41.2" y2="240.80" class="tick"/>
<text x="38.90" y="244.25" class="yt" textLength="15.92" lengthAdjust="spacingAndGlyphs">0.31</text>
<rect x="17.52" y="240.70" width="5.3" height="0.8" class="minus"/>
<line x1="41.20" y1="240.8" x2="41.20" y2="242.3" class="tick"/>
<text x="41.20" y="249.80" class="xt" textLength="17.3" lengthAdjust="spacingAndGlyphs">1990</text>
<line x1="65.55" y1="240.8" x2="65.55" y2="242.3" class="tick"/>
<text x="65.55" y="249.80" class="xt" textLength="17.3" lengthAdjust="spacingAndGlyphs">1995</text>
<line x1="89.90" y1="240.8" x2="89.90" y2="242.3" class="tick"/>
<text x="89.90" y="249.80" class="xt" textLength="17.3" lengthAdjust="spacingAndGlyphs">2000</text>
<line x1="114.25" y1="240.8" x2="114.25" y2="242.3" class="tick"/>
<text x="114.25" y="249.80" class="xt" textLength="17.3" lengthAdjust="spacingAndGlyphs">2005</text>
<line x1="138.60" y1="240.8" x2="138.60" y2="242.3" class="tick"/>
<text x="138.60" y="249.80" class="xt" textLength="17.3" lengthAdjust="spacingAndGlyphs">2010</text>
<line x1="162.95" y1="240.8" x2="162.95" y2="242.3" class="tick"/>
<text x="162.95" y="249.80" class="xt" textLength="17.3" lengthAdjust="spacingAndGlyphs">2015</text>
<line x1="187.30" y1="240.8" x2="187.30" y2="242.3" class="tick"/>
<text x="187.30" y="249.80" class="xt" textLength="17.3" lengthAdjust="spacingAndGlyphs">2020</text>
<text x="112.65" y="259.10" class="xl">t</text>
<text transform="translate(12.10,212.60) rotate(-90)" class="ylr">r</text>
<text transform="translate(12.90,207.00) rotate(-90)" class="ylsub" textLength="25.3" lengthAdjust="spacingAndGlyphs">out, in</text>
<text transform="translate(11.00,180.50) rotate(-90)" class="ylp" textLength="14" lengthAdjust="spacingAndGlyphs">(<tspan class="it">t</tspan>)</text>
<text x="0.7" y="132.8" class="pl">C</text>
<rect x="162.10" y="138.00" width="24.3" height="20.8" rx="0.8" class="leg"/>
<line x1="163.40" y1="141.70" x2="170.20" y2="141.70" stroke="#2a78b0" class="ln"/>
<circle cx="166.70" cy="141.70" r="1.05" fill="#174c78"/>
<text x="173.00" y="143.00" class="lt" textLength="7.9" lengthAdjust="spacingAndGlyphs">Maize</text>
<line x1="163.40" y1="146.42" x2="170.20" y2="146.42" stroke="#f4922e" class="ln"/>
<circle cx="166.70" cy="146.42" r="1.05" fill="#b8600e"/>
<text x="173.00" y="147.72" class="lt" textLength="6.2" lengthAdjust="spacingAndGlyphs">Rice</text>
<line x1="163.40" y1="151.14" x2="170.20" y2="151.14" stroke="#2e9c3e" class="ln"/>
<circle cx="166.70" cy="151.14" r="1.05" fill="#1b6e2b"/>
<text x="173.00" y="152.44" class="lt" textLength="11.2" lengthAdjust="spacingAndGlyphs">Soybean</text>
<line x1="163.40" y1="155.86" x2="170.20" y2="155.86" stroke="#da4656" class="ln"/>
<circle cx="166.70" cy="155.86" r="1.05" fill="#9a2030"/>
<text x="173.00" y="157.16" class="lt" textLength="7.9" lengthAdjust="spacingAndGlyphs">Wheat</text>
<line x1="268.63" y1="137.3" x2="268.63" y2="240.8" class="grid"/>
<line x1="292.97" y1="137.3" x2="292.97" y2="240.8" class="grid"/>
<line x1="317.30" y1="137.3" x2="317.30" y2="240.8" class="grid"/>
<line x1="341.63" y1="137.3" x2="341.63" y2="240.8" class="grid"/>
<line x1="365.97" y1="137.3" x2="365.97" y2="240.8" class="grid"/>
<line x1="244.3" y1="156.71" x2="390.3" y2="156.71" class="grid"/>
<line x1="244.3" y1="176.11" x2="390.3" y2="176.11" class="grid"/>
<line x1="244.3" y1="195.52" x2="390.3" y2="195.52" class="grid"/>
<line x1="244.3" y1="214.93" x2="390.3" y2="214.93" class="grid"/>
<line x1="244.3" y1="234.33" x2="390.3" y2="234.33" class="grid"/>
<polyline points="258.90,200.69 263.77,204.70 268.63,195.97 273.50,208.20 278.37,206.19 283.23,192.93 288.10,192.67 292.97,186.72 297.83,182.71 302.70,183.23 307.57,181.93 312.43,175.47 317.30,176.50 322.17,180.96 327.03,186.33 331.90,178.70 336.77,171.20 341.63,179.41 346.50,170.42 351.37,172.10 356.23,175.34 361.10,187.56 365.97,172.75 370.83,189.37 375.70,186.92 380.57,204.70" fill="none" stroke="#2a78b0" class="ln"/>
<circle cx="258.90" cy="200.69" r="1.22" fill="#174c78" class="mk"/>
<circle cx="263.77" cy="204.70" r="1.22" fill="#174c78" class="mk"/>
<circle cx="268.63" cy="195.97" r="1.22" fill="#174c78" class="mk"/>
<circle cx="273.50" cy="208.20" r="1.22" fill="#174c78" class="mk"/>
<circle cx="278.37" cy="206.19" r="1.22" fill="#174c78" class="mk"/>
<circle cx="283.23" cy="192.93" r="1.22" fill="#174c78" class="mk"/>
<circle cx="288.10" cy="192.67" r="1.22" fill="#174c78" class="mk"/>
<circle cx="292.97" cy="186.72" r="1.22" fill="#174c78" class="mk"/>
<circle cx="297.83" cy="182.71" r="1.22" fill="#174c78" class="mk"/>
<circle cx="302.70" cy="183.23" r="1.22" fill="#174c78" class="mk"/>
<circle cx="307.57" cy="181.93" r="1.22" fill="#174c78" class="mk"/>
<circle cx="312.43" cy="175.47" r="1.22" fill="#174c78" class="mk"/>
<circle cx="317.30" cy="176.50" r="1.22" fill="#174c78" class="mk"/>
<circle cx="322.17" cy="180.96" r="1.22" fill="#174c78" class="mk"/>
<circle cx="327.03" cy="186.33" r="1.22" fill="#174c78" class="mk"/>
<circle cx="331.90" cy="178.70" r="1.22" fill="#174c78" class="mk"/>
<circle cx="336.77" cy="171.20" r="1.22" fill="#174c78" class="mk"/>
<circle cx="341.63" cy="179.41" r="1.22" fill="#174c78" class="mk"/>
<circle cx="346.50" cy="170.42" r="1.22" fill="#174c78" class="mk"/>
<circle cx="351.37" cy="172.10" r="1.22" fill="#174c78" class="mk"/>
<circle cx="356.23" cy="175.34" r="1.22" fill="#174c78" class="mk"/>
<circle cx="361.10" cy="187.56" r="1.22" fill="#174c78" class="mk"/>
<circle cx="365.97" cy="172.75" r="1.22" fill="#174c78" class="mk"/>
<circle cx="370.83" cy="189.37" r="1.22" fill="#174c78" class="mk"/>
<circle cx="375.70" cy="186.92" r="1.22" fill="#174c78" class="mk"/>
<circle cx="380.57" cy="204.70" r="1.22" fill="#174c78" class="mk"/>
<polyline points="258.90,191.18 263.77,184.52 268.63,179.67 273.50,182.97 278.37,188.21 283.23,178.51 288.10,186.72 292.97,180.71 297.83,176.69 302.70,182.19 307.57,193.77 312.43,197.46 317.30,187.11 322.17,216.67 327.03,204.38 331.90,194.10 336.77,199.40 341.63,201.15 346.50,203.86 351.37,199.40 356.23,205.22 361.10,207.94 365.97,216.22 370.83,207.23 375.70,205.61 380.57,212.73" fill="none" stroke="#f4922e" class="ln"/>
<circle cx="258.90" cy="191.18" r="1.22" fill="#b8600e" class="mk"/>
<circle cx="263.77" cy="184.52" r="1.22" fill="#b8600e" class="mk"/>
<circle cx="268.63" cy="179.67" r="1.22" fill="#b8600e" class="mk"/>
<circle cx="273.50" cy="182.97" r="1.22" fill="#b8600e" class="mk"/>
<circle cx="278.37" cy="188.21" r="1.22" fill="#b8600e" class="mk"/>
<circle cx="283.23" cy="178.51" r="1.22" fill="#b8600e" class="mk"/>
<circle cx="288.10" cy="186.72" r="1.22" fill="#b8600e" class="mk"/>
<circle cx="292.97" cy="180.71" r="1.22" fill="#b8600e" class="mk"/>
<circle cx="297.83" cy="176.69" r="1.22" fill="#b8600e" class="mk"/>
<circle cx="302.70" cy="182.19" r="1.22" fill="#b8600e" class="mk"/>
<circle cx="307.57" cy="193.77" r="1.22" fill="#b8600e" class="mk"/>
<circle cx="312.43" cy="197.46" r="1.22" fill="#b8600e" class="mk"/>
<circle cx="317.30" cy="187.11" r="1.22" fill="#b8600e" class="mk"/>
<circle cx="322.17" cy="216.67" r="1.22" fill="#b8600e" class="mk"/>
<circle cx="327.03" cy="204.38" r="1.22" fill="#b8600e" class="mk"/>
<circle cx="331.90" cy="194.10" r="1.22" fill="#b8600e" class="mk"/>
<circle cx="336.77" cy="199.40" r="1.22" fill="#b8600e" class="mk"/>
<circle cx="341.63" cy="201.15" r="1.22" fill="#b8600e" class="mk"/>
<circle cx="346.50" cy="203.86" r="1.22" fill="#b8600e" class="mk"/>
<circle cx="351.37" cy="199.40" r="1.22" fill="#b8600e" class="mk"/>
<circle cx="356.23" cy="205.22" r="1.22" fill="#b8600e" class="mk"/>
<circle cx="361.10" cy="207.94" r="1.22" fill="#b8600e" class="mk"/>
<circle cx="365.97" cy="216.22" r="1.22" fill="#b8600e" class="mk"/>
<circle cx="370.83" cy="207.23" r="1.22" fill="#b8600e" class="mk"/>
<circle cx="375.70" cy="205.61" r="1.22" fill="#b8600e" class="mk"/>
<circle cx="380.57" cy="212.73" r="1.22" fill="#b8600e" class="mk"/>
<polyline points="258.90,177.28 263.77,142.80 268.63,145.19 273.50,147.33 278.37,159.29 283.23,149.72 288.10,178.76 292.97,141.70 297.83,163.82 302.70,168.22 307.57,182.00 312.43,172.23 317.30,146.68 322.17,169.97 327.03,172.55 331.90,173.98 336.77,189.89 341.63,192.03 346.50,181.87 351.37,197.27 356.23,194.74 361.10,184.39 365.97,197.27 370.83,211.37 375.70,199.79 380.57,227.47" fill="none" stroke="#2e9c3e" class="ln"/>
<circle cx="258.90" cy="177.28" r="1.22" fill="#1b6e2b" class="mk"/>
<circle cx="263.77" cy="142.80" r="1.22" fill="#1b6e2b" class="mk"/>
<circle cx="268.63" cy="145.19" r="1.22" fill="#1b6e2b" class="mk"/>
<circle cx="273.50" cy="147.33" r="1.22" fill="#1b6e2b" class="mk"/>
<circle cx="278.37" cy="159.29" r="1.22" fill="#1b6e2b" class="mk"/>
<circle cx="283.23" cy="149.72" r="1.22" fill="#1b6e2b" class="mk"/>
<circle cx="288.10" cy="178.76" r="1.22" fill="#1b6e2b" class="mk"/>
<circle cx="292.97" cy="141.70" r="1.22" fill="#1b6e2b" class="mk"/>
<circle cx="297.83" cy="163.82" r="1.22" fill="#1b6e2b" class="mk"/>
<circle cx="302.70" cy="168.22" r="1.22" fill="#1b6e2b" class="mk"/>
<circle cx="307.57" cy="182.00" r="1.22" fill="#1b6e2b" class="mk"/>
<circle cx="312.43" cy="172.23" r="1.22" fill="#1b6e2b" class="mk"/>
<circle cx="317.30" cy="146.68" r="1.22" fill="#1b6e2b" class="mk"/>
<circle cx="322.17" cy="169.97" r="1.22" fill="#1b6e2b" class="mk"/>
<circle cx="327.03" cy="172.55" r="1.22" fill="#1b6e2b" class="mk"/>
<circle cx="331.90" cy="173.98" r="1.22" fill="#1b6e2b" class="mk"/>
<circle cx="336.77" cy="189.89" r="1.22" fill="#1b6e2b" class="mk"/>
<circle cx="341.63" cy="192.03" r="1.22" fill="#1b6e2b" class="mk"/>
<circle cx="346.50" cy="181.87" r="1.22" fill="#1b6e2b" class="mk"/>
<circle cx="351.37" cy="197.27" r="1.22" fill="#1b6e2b" class="mk"/>
<circle cx="356.23" cy="194.74" r="1.22" fill="#1b6e2b" class="mk"/>
<circle cx="361.10" cy="184.39" r="1.22" fill="#1b6e2b" class="mk"/>
<circle cx="365.97" cy="197.27" r="1.22" fill="#1b6e2b" class="mk"/>
<circle cx="370.83" cy="211.37" r="1.22" fill="#1b6e2b" class="mk"/>
<circle cx="375.70" cy="199.79" r="1.22" fill="#1b6e2b" class="mk"/>
<circle cx="380.57" cy="227.47" r="1.22" fill="#1b6e2b" class="mk"/>
<polyline points="258.90,228.70 263.77,201.53 268.63,204.70 273.50,224.69 278.37,226.50 283.23,219.71 288.10,210.72 292.97,205.22 297.83,197.46 302.70,201.34 307.57,198.11 312.43,206.84 317.30,221.20 322.17,196.04 327.03,200.63 331.90,196.68 336.77,198.11 341.63,206.65 346.50,210.91 351.37,215.05 356.23,222.69 361.10,207.87 365.97,219.97 370.83,235.24 375.70,231.23 380.57,227.47" fill="none" stroke="#da4656" class="ln"/>
<circle cx="258.90" cy="228.70" r="1.22" fill="#9a2030" class="mk"/>
<circle cx="263.77" cy="201.53" r="1.22" fill="#9a2030" class="mk"/>
<circle cx="268.63" cy="204.70" r="1.22" fill="#9a2030" class="mk"/>
<circle cx="273.50" cy="224.69" r="1.22" fill="#9a2030" class="mk"/>
<circle cx="278.37" cy="226.50" r="1.22" fill="#9a2030" class="mk"/>
<circle cx="283.23" cy="219.71" r="1.22" fill="#9a2030" class="mk"/>
<circle cx="288.10" cy="210.72" r="1.22" fill="#9a2030" class="mk"/>
<circle cx="292.97" cy="205.22" r="1.22" fill="#9a2030" class="mk"/>
<circle cx="297.83" cy="197.46" r="1.22" fill="#9a2030" class="mk"/>
<circle cx="302.70" cy="201.34" r="1.22" fill="#9a2030" class="mk"/>
<circle cx="307.57" cy="198.11" r="1.22" fill="#9a2030" class="mk"/>
<circle cx="312.43" cy="206.84" r="1.22" fill="#9a2030" class="mk"/>
<circle cx="317.30" cy="221.20" r="1.22" fill="#9a2030" class="mk"/>
<circle cx="322.17" cy="196.04" r="1.22" fill="#9a2030" class="mk"/>
<circle cx="327.03" cy="200.63" r="1.22" fill="#9a2030" class="mk"/>
<circle cx="331.90" cy="196.68" r="1.22" fill="#9a2030" class="mk"/>
<circle cx="336.77" cy="198.11" r="1.22" fill="#9a2030" class="mk"/>
<circle cx="341.63" cy="206.65" r="1.22" fill="#9a2030" class="mk"/>
<circle cx="346.50" cy="210.91" r="1.22" fill="#9a2030" class="mk"/>
<circle cx="351.37" cy="215.05" r="1.22" fill="#9a2030" class="mk"/>
<circle cx="356.23" cy="222.69" r="1.22" fill="#9a2030" class="mk"/>
<circle cx="361.10" cy="207.87" r="1.22" fill="#9a2030" class="mk"/>
<circle cx="365.97" cy="219.97" r="1.22" fill="#9a2030" class="mk"/>
<circle cx="370.83" cy="235.24" r="1.22" fill="#9a2030" class="mk"/>
<circle cx="375.70" cy="231.23" r="1.22" fill="#9a2030" class="mk"/>
<circle cx="380.57" cy="227.47" r="1.22" fill="#9a2030" class="mk"/>
<rect x="244.3" y="137.3" width="146.00" height="103.50" class="spine"/>
<line x1="242.8" y1="137.30" x2="244.3" y2="137.30" class="tick"/>
<text x="242.00" y="140.75" class="yt" textLength="15.92" lengthAdjust="spacingAndGlyphs">0.05</text>
<rect x="220.62" y="137.20" width="5.3" height="0.8" class="minus"/>
<line x1="242.8" y1="156.71" x2="244.3" y2="156.71" class="tick"/>
<text x="242.00" y="160.16" class="yt" textLength="15.92" lengthAdjust="spacingAndGlyphs">0.08</text>
<rect x="220.62" y="156.61" width="5.3" height="0.8" class="minus"/>
<line x1="242.8" y1="176.11" x2="244.3" y2="176.11" class="tick"/>
<text x="242.00" y="179.56" class="yt" textLength="15.92" lengthAdjust="spacingAndGlyphs">0.11</text>
<rect x="220.62" y="176.01" width="5.3" height="0.8" class="minus"/>
<line x1="242.8" y1="195.52" x2="244.3" y2="195.52" class="tick"/>
<text x="242.00" y="198.97" class="yt" textLength="15.92" lengthAdjust="spacingAndGlyphs">0.14</text>
<rect x="220.62" y="195.42" width="5.3" height="0.8" class="minus"/>
<line x1="242.8" y1="214.93" x2="244.3" y2="214.93" class="tick"/>
<text x="242.00" y="218.38" class="yt" textLength="15.92" lengthAdjust="spacingAndGlyphs">0.17</text>
<rect x="220.62" y="214.83" width="5.3" height="0.8" class="minus"/>
<line x1="242.8" y1="234.33" x2="244.3" y2="234.33" class="tick"/>
<text x="242.00" y="237.78" class="yt" textLength="15.92" lengthAdjust="spacingAndGlyphs">0.20</text>
<rect x="220.62" y="234.23" width="5.3" height="0.8" class="minus"/>
<line x1="244.30" y1="240.8" x2="244.30" y2="242.3" class="tick"/>
<text x="244.30" y="249.80" class="xt" textLength="17.3" lengthAdjust="spacingAndGlyphs">1990</text>
<line x1="268.63" y1="240.8" x2="268.63" y2="242.3" class="tick"/>
<text x="268.63" y="249.80" class="xt" textLength="17.3" lengthAdjust="spacingAndGlyphs">1995</text>
<line x1="292.97" y1="240.8" x2="292.97" y2="242.3" class="tick"/>
<text x="292.97" y="249.80" class="xt" textLength="17.3" lengthAdjust="spacingAndGlyphs">2000</text>
<line x1="317.30" y1="240.8" x2="317.30" y2="242.3" class="tick"/>
<text x="317.30" y="249.80" class="xt" textLength="17.3" lengthAdjust="spacingAndGlyphs">2005</text>
<line x1="341.63" y1="240.8" x2="341.63" y2="242.3" class="tick"/>
<text x="341.63" y="249.80" class="xt" textLength="17.3" lengthAdjust="spacingAndGlyphs">2010</text>
<line x1="365.97" y1="240.8" x2="365.97" y2="242.3" class="tick"/>
<text x="365.97" y="249.80" class="xt" textLength="17.3" lengthAdjust="spacingAndGlyphs">2015</text>
<line x1="390.30" y1="240.8" x2="390.30" y2="242.3" class="tick"/>
<text x="390.30" y="249.80" class="xt" textLength="17.3" lengthAdjust="spacingAndGlyphs">2020</text>
<text x="315.70" y="259.10" class="xl">t</text>
<text transform="translate(215.20,215.95) rotate(-90)" class="ylr">r</text>
<text transform="translate(216.00,210.35) rotate(-90)" class="ylsub" textLength="32.0" lengthAdjust="spacingAndGlyphs">out, out</text>
<text transform="translate(214.10,177.15) rotate(-90)" class="ylp" textLength="14" lengthAdjust="spacingAndGlyphs">(<tspan class="it">t</tspan>)</text>
<text x="204.5" y="132.7" class="pl">D</text>
<rect x="365.10" y="138.00" width="24.3" height="20.8" rx="0.8" class="leg"/>
<line x1="366.40" y1="141.70" x2="373.20" y2="141.70" stroke="#2a78b0" class="ln"/>
<circle cx="369.70" cy="141.70" r="1.05" fill="#174c78"/>
<text x="376.00" y="143.00" class="lt" textLength="7.9" lengthAdjust="spacingAndGlyphs">Maize</text>
<line x1="366.40" y1="146.42" x2="373.20" y2="146.42" stroke="#f4922e" class="ln"/>
<circle cx="369.70" cy="146.42" r="1.05" fill="#b8600e"/>
<text x="376.00" y="147.72" class="lt" textLength="6.2" lengthAdjust="spacingAndGlyphs">Rice</text>
<line x1="366.40" y1="151.14" x2="373.20" y2="151.14" stroke="#2e9c3e" class="ln"/>
<circle cx="369.70" cy="151.14" r="1.05" fill="#1b6e2b"/>
<text x="376.00" y="152.44" class="lt" textLength="11.2" lengthAdjust="spacingAndGlyphs">Soybean</text>
<line x1="366.40" y1="155.86" x2="373.20" y2="155.86" stroke="#da4656" class="ln"/>
<circle cx="369.70" cy="155.86" r="1.05" fill="#9a2030"/>
<text x="376.00" y="157.16" class="lt" textLength="7.9" lengthAdjust="spacingAndGlyphs">Wheat</text>
</svg>
</body></html>
